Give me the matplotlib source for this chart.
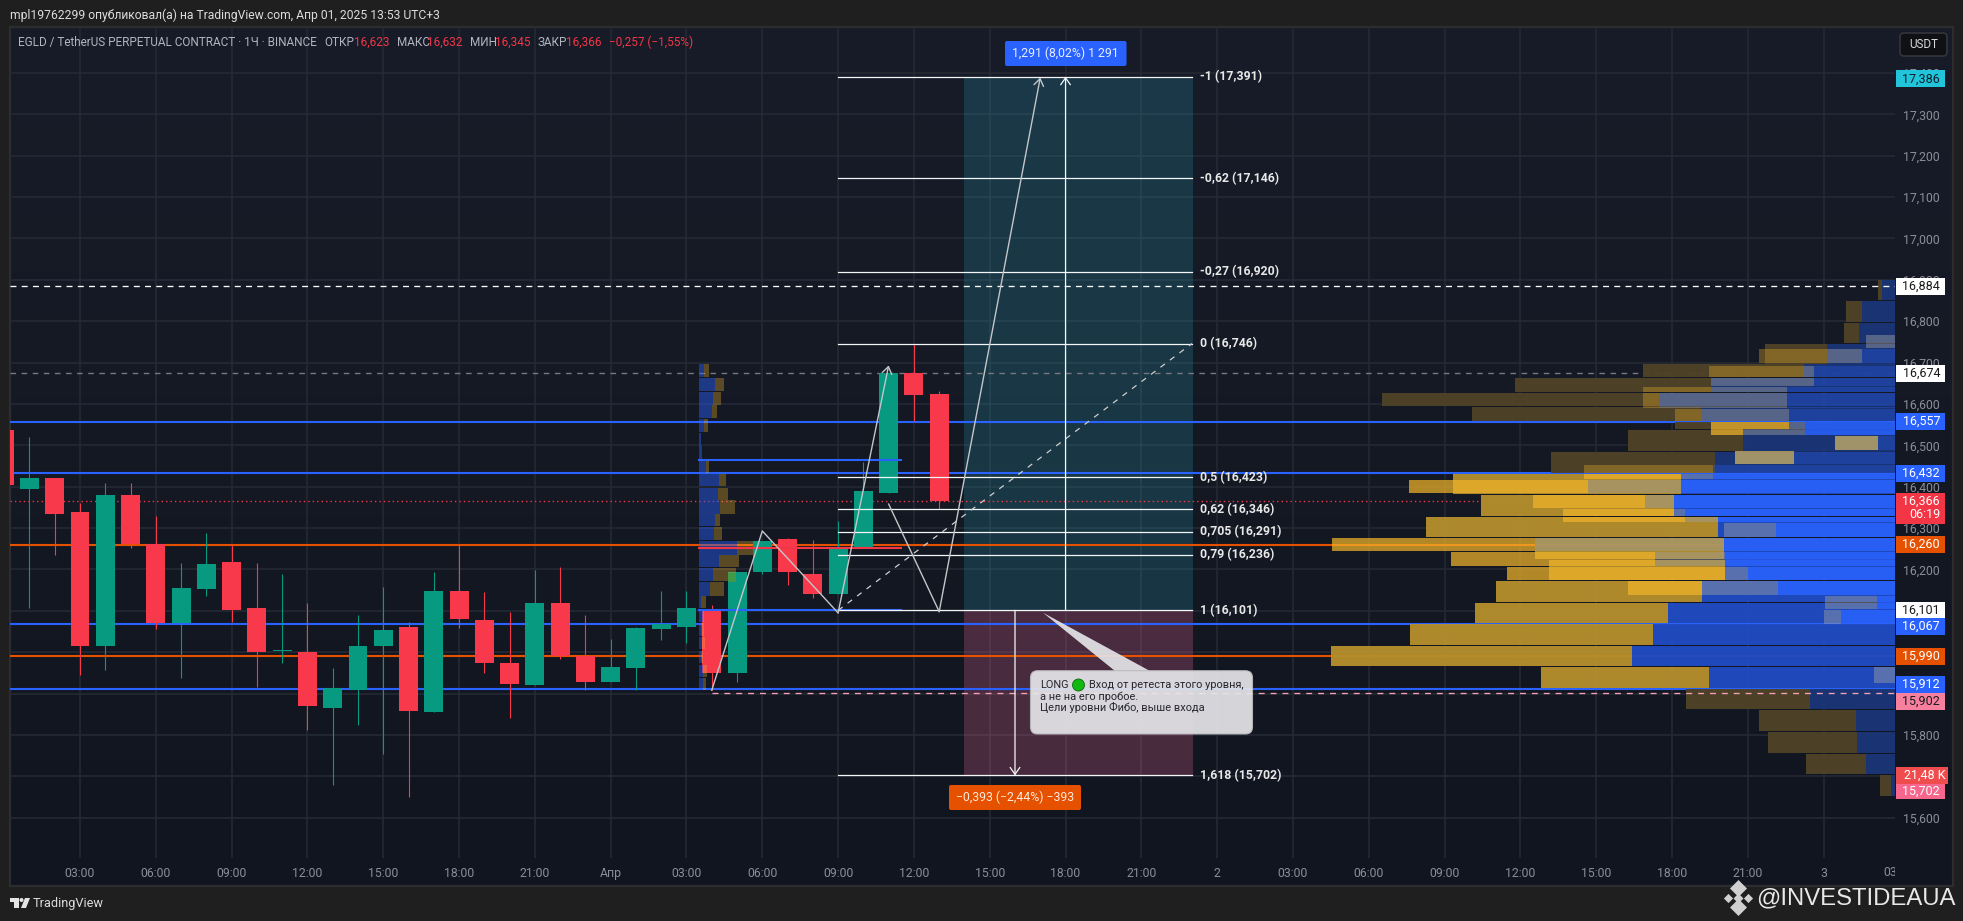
import numpy as np
import matplotlib
matplotlib.use('Agg')
import matplotlib.pyplot as plt
from matplotlib.patches import FancyBboxPatch, Polygon, Rectangle, Circle
from matplotlib.transforms import Bbox, TransformedBbox, IdentityTransform

plt.rcParams['font.family'] = ['Roboto', 'DejaVu Sans']

# ---------------- data ----------------
hours  = list(range(38))
opens  = [16537,16394,16420,16338,16016,16379,16261,16070,16152,16217,16106,16002,16000,15864,15908,16014,16060,15855,16147,16077,15975,15920,16118,15990,15929,15961,16055,16062,16103,15949,16193,16273,16190,16140,16253,16384,16675,16623]
highs  = [16537,16521,16420,16360,16408,16410,16328,16215,16287,16258,16215,16188,16120,15961,16089,16157,16074,16195,16258,16145,16096,16198,16205,16089,16031,16060,16149,16147,16113,16193,16268,16275,16270,16316,16460,16674,16746,16632]
lows   = [16403,16106,16234,15944,15956,16253,16055,15937,16137,16072,15915,15973,15811,15678,15823,15755,15651,15855,16058,15949,15840,15920,15983,15908,15929,15908,16029,16021,15908,15927,16188,16162,16130,16140,16253,16384,16559,16345]
closes = [16403,16420,16333,16014,16379,16261,16070,16154,16212,16103,16000,16004,15869,15913,16014,16053,15857,16147,16079,15975,15922,16118,15990,15929,15963,16058,16067,16106,15949,16193,16268,16195,16140,16250,16389,16674,16622,16366]

fib_labels = ['-1','-0,62','-0,27','0','0,5','0,62','0,705','0,79','1','1,618']
fib_prices = [17391,17146,16920,16746,16423,16346,16291,16236,16101,15702]

blue_levels   = [16557,16432,16067,15912]
orange_levels = [16260,15990]

# session volume profile (left): price band, buy and sell volume
sess_top  = [16697,16663,16629,16597,16564,16530,16498,16466,16430,16398,16367,16333,16302,16268,16234,16203,16169,16135,16103,16070,16036,16004,15970,15937]
sess_bot  = [16665,16631,16597,16566,16532,16498,16467,16432,16401,16369,16335,16304,16270,16236,16205,16171,16137,16106,16072,16038,16007,15973,15939,15908]
sess_buy  = [5.1,15.8,13.8,13.3,5.1,2,3,7.1,20,19,21,15.8,14.8,38.3,20,13.8,10.7,2,4,2,3,2,4,4]
sess_sell = [5.1,9.2,8.2,4.6,4.1,0,0,3.1,7.1,10.2,15.3,5.1,8.2,16,19.9,23.5,14.3,5.1,1,3,3,2,4,3]

# visible range volume profile (right), first layer
va_top  = [16900,16849,16796,16745,16697,16663,16627,16593,16556,16537,16484,16431,16380,16327,16276,16223,16172,16119,16068,16015,15964,15911,15860,15807,15754,15703]
va_bot  = [16851,16798,16747,16694,16665,16629,16595,16559,16540,16486,16433,16382,16329,16279,16225,16175,16121,16071,16017,15967,15914,15863,15810,15756,15706,15652]
va_buy  = [13.1,33,35.9,68.1,90.9,183.9,235.9,194.1,106.1,151.8,180.1,213.9,220.7,176.7,170.8,170,192.8,227,241.8,263,186,85,38.9,38.1,28.8,3.8]
va_sell = [3.8,16.1,14.8,61.7,161.1,196.2,276.9,228.7,113.9,115,163.6,227.9,193.2,292.2,189.6,175.9,205.9,192.8,243.1,300.7,167.9,123.9,96.8,88.8,60,11]

# visible range volume profile (right), second layer
vb_top   = [16767,16733,16692,16663,16641,16627,16588,16556,16540,16523,16486,16453,16431,16416,16380,16346,16327,16312,16276,16242,16206,16172,16136,16102,15963]
vb_bot   = [16735,16699,16665,16643,16629,16590,16559,16540,16525,16489,16455,16433,16419,16385,16349,16329,16315,16279,16245,16208,16175,16138,16105,16068,15926]
vb_blue  = [0,33,80.8,80.8,107.8,107.8,106.1,90.1,90.1,16.9,101,181.8,181.8,213.9,220.7,209.7,176.7,118.8,170.8,170,146.7,117.1,17.8,54.1,0]
vb_mixed = [28.8,35.1,10.1,103.1,76.1,128.1,88,16,61.7,43.1,58.8,0,32.1,93.1,29.2,11,33,52,189,69.7,23.3,75.7,52,16.9,21.2]
vb_gold  = [0,67.6,95.1,0,68.1,16.1,25.8,77.8,32.1,0,0,129,96.9,178.8,112,111.2,122.2,0,202.9,204.2,217.7,74,0,0,0]

tag_prices  = [17386,16884,16674,16557,16432,16260,16101,16067,15990,15912,15902,15702]
tag_shifts  = [0,0,0,0,0,0,0,2,0,-4.5,9,15.5]
tag_fills   = ['#22c4da','#ffffff','#ffffff','#2962ff','#2962ff','#e65100','#ffffff','#2962ff','#e65100','#2962ff','#f7809f','#f7668c']
tag_texts   = ['#10202a','#1a1a1a','#1a1a1a','#ffffff','#ffffff','#ffffff','#1a1a1a','#ffffff','#ffffff','#ffffff','#1a1a1a','#ffffff']

tick_hours  = [3,6,9,12,15,18,21,24,27,30,33,36,39,42,45,48,51,54,57,60,63,66,69,72]
tick_labels = ['03:00','06:00','09:00','12:00','15:00','18:00','21:00','Апр','03:00','06:00','09:00','12:00','15:00','18:00','21:00','2','03:00','06:00','09:00','12:00','15:00','18:00','21:00','3']

# ---------------- layout ----------------
W, H = 1963, 921
PX_PER_H = 25.27
X0 = 4.2
PX_PER_P = 0.4137
PL, PR, PT, PB = 10, 1895, 27, 858
def hx(px): return (px - X0) / PX_PER_H
def pv(py): return 17400 - (py - 73) / PX_PER_P
VOL = 1 / PX_PER_H

GREEN, RED = '#089981', '#f7394b'
BLUE, ORANGE = '#2962ff', '#e65100'
GOLD = '#f0b429'

fig = plt.figure(figsize=(W/100, H/100), dpi=100, facecolor='#1f1f1f')

# pane background gradient
bg = fig.add_axes([PL/W, 1-886/H, (1953-PL)/W, (886-PT)/H], zorder=0)
top_c = np.array([0x18,0x1c,0x28])/255
bot_c = np.array([0x11,0x15,0x1f])/255
t = np.linspace(0,1,200)[:,None,None]
bg.imshow(top_c[None,None,:]*(1-t)+bot_c[None,None,:]*t, aspect='auto', extent=[0,1,0,1])
bg.set_xticks([]); bg.set_yticks([])
for s in bg.spines.values():
    s.set_color('#2b2d31'); s.set_linewidth(1.6)

ax = fig.add_axes([PL/W, 1-PB/H, (PR-PL)/W, (PB-PT)/H], zorder=1)
ax.patch.set_alpha(0)
ax.set_xlim(hx(PL), hx(PR))
ax.set_ylim(pv(PB), pv(PT))
for s in ax.spines.values():
    s.set_visible(False)
ax.set_axisbelow(True)
ax.grid(True, color='#262a35', lw=1.1, zorder=0.5)
ax.set_xticks(tick_hours)
ax.set_xticklabels(tick_labels)
ax.set_yticks(np.arange(15600, 17500, 100))
ax.set_yticklabels([f'{v/1000:.3f}'.replace('.', ',') for v in np.arange(15600, 17500, 100)])
ax.yaxis.tick_right()
ax.tick_params(axis='x', length=0, pad=6.2, labelsize=8.8, labelcolor='#8b8e97')
ax.tick_params(axis='y', length=0, pad=32, labelsize=8.8, labelcolor='#8b8e97')
for lab in ax.get_yticklabels():
    lab.set_ha('right')

# position boxes
FIB_L, FIB_R = 33, 47
BOX_L, BOX_R = 38, 47.05
entry, target, stop = 16101, 17389, 15702
ax.fill_between([BOX_L, BOX_R], entry, target, color='#2bb0c8', alpha=0.2, lw=0, zorder=1)
ax.fill_between([BOX_L, BOX_R], stop, entry, color='#f06a9a', alpha=0.25, lw=0, zorder=1)

# full width levels
for p in blue_levels:
    ax.axhline(p, color=BLUE, lw=1.5, zorder=2)
for p in orange_levels:
    ax.axhline(p, color=ORANGE, lw=1.5, zorder=2)
ax.axhline(16366, color='#f23645', lw=1, ls=(0,(1,2.2)), zorder=2)
ax.axhline(16674, color='#77797f', lw=1, ls=(0,(4,4)), zorder=2)
ax.axhline(16884, color='#ffffff', lw=0.95, ls=(0,(4.5,4)), zorder=6)
ax.plot([28, hx(PR)], [15902, 15902], color='#f7a0b8', lw=0.95, ls=(0,(4.5,4.5)), zorder=6)

# right volume profile, layer A
right = hx(PR)
VA_HI, VA_LO = 16431, 15912
for top, bot, buy, sell in zip(va_top, va_bot, va_buy, va_sell):
    inside = VA_LO <= (top+bot)/2 <= VA_HI
    ax.barh(bot, buy*VOL, (top-bot), left=right-buy*VOL, align='edge',
            color='#204cc2' if inside else '#1b3677', lw=0, zorder=2.5, alpha=0.96)
    ax.barh(bot, sell*VOL, (top-bot), left=right-(buy+sell)*VOL, align='edge',
            color='#b48f2d' if inside else '#4f4228', lw=0, zorder=2.5, alpha=0.96)
# layer B
for top, bot, blue, mixed, gold in zip(vb_top, vb_bot, vb_blue, vb_mixed, vb_gold):
    mid = (top+bot)/2
    hi = (VA_LO <= mid <= VA_HI) or (16525 <= mid <= 16556)
    tan = 16455 <= mid <= 16523
    if blue:
        ax.barh(bot, blue*VOL, top-bot, left=right-blue*VOL, align='edge',
                color=BLUE, alpha=0.85 if hi else 0.3, lw=0, zorder=2.6)
    if mixed:
        ax.barh(bot, mixed*VOL, top-bot, left=right-(blue+mixed)*VOL, align='edge',
                color='#b8a468' if tan else '#a0a0a0', alpha=0.85 if tan else 0.45, lw=0, zorder=2.6)
    if gold:
        ax.barh(bot, gold*VOL, top-bot, left=right-(blue+mixed+gold)*VOL, align='edge',
                color=GOLD, alpha=0.72 if hi else 0.33, lw=0, zorder=2.6)

# candles
for h, o, hi, lo, c in zip(hours, opens, highs, lows, closes):
    col = GREEN if c >= o else RED
    ax.plot([h, h], [lo, hi], color=col, lw=0.8, zorder=3, solid_capstyle='butt')
    ax.bar(h, max(abs(c-o), 3), 0.75, bottom=min(o, c), color=col, lw=0, zorder=3.1)

# session volume profile
S_L = 27.5
for top, bot, buy, sell in zip(sess_top, sess_bot, sess_buy, sess_sell):
    ax.barh(bot, buy*VOL, top-bot, left=S_L, align='edge', color=BLUE, alpha=0.45, lw=0, zorder=4)
    ax.barh(bot, sell*VOL, top-bot, left=S_L+buy*VOL, align='edge', color=GOLD, alpha=0.32, lw=0, zorder=4)
for p, col in [(16465, BLUE), (16103, BLUE), (16251, '#f23645')]:
    ax.plot([S_L, 35.5], [p, p], color=col, lw=1.5, zorder=4.5)

# fib levels
for p, l in zip(fib_prices, fib_labels):
    ax.plot([FIB_L, FIB_R], [p, p], color='#f2f6f6', lw=0.9, zorder=5)
    ax.text(hx(1199.6), p, f'{l} ({p/1000:.3f})'.replace('.', ','), color='#e8e8e8',
            fontsize=8.8, fontweight='bold', va='center', ha='left', zorder=7)
ax.plot([FIB_L, FIB_R], [16101, 16746], color='#cfcfcf', lw=0.9, ls=(0,(4.5,5)), zorder=5)

# measured arrows and path drawings
def arrow(p0, p1, col, lw):
    ax.annotate('', xy=p1, xytext=p0, zorder=6,
                arrowprops=dict(arrowstyle='->,head_length=0.5,head_width=0.35', color=col, lw=lw,
                                shrinkA=0, shrinkB=0))
arrow((42, 16101), (42, 17391), '#f4f8f8', 0.9)
arrow((40, 16101), (40, 15702), '#f4f8f8', 0.9)
PATH = '#c4c6c8'
ax.plot([28, 30, 33], [15908, 16293, 16095], color=PATH, lw=1.0, zorder=6)
arrow((33, 16095), (35, 16693), PATH, 1.0)
ax.plot([35, 37], [16358, 16098], color=PATH, lw=1.0, zorder=6)
arrow((37, 16098), (41, 17389), PATH, 1.0)

# interface overlay in pixel coordinates
ui = fig.add_axes([0, 0, 1, 1], zorder=3)
ui.set_xlim(0, W); ui.set_ylim(H, 0); ui.axis('off'); ui.patch.set_alpha(0)
fig.canvas.draw()
def py(p):
    return H - ax.transData.transform((0, p))[1]

def txt(x, y, s, col, size, **kw):
    kw.setdefault('va', 'center'); kw.setdefault('ha', 'left')
    return ui.text(x, y, s, color=col, fontsize=size, **kw)

def tag(y, h, fill, text, tcol, x0=1896, x1=1945):
    ui.add_patch(Rectangle((x0, y-h/2), x1-x0, h, fc=fill, ec='none', zorder=5))
    return txt(1940, y, text, tcol, 9.0, ha='right', zorder=6)

for p, d, f, c in zip(tag_prices, tag_shifts, tag_fills, tag_texts):
    tag(py(p)+d, 17, f, f'{p/1000:.3f}'.replace('.', ','), c)
# last price tag with countdown
y_last = py(16366)
ui.add_patch(Rectangle((1896, y_last-7.5), 49, 31, fc='#f23645', ec='none', zorder=5))
txt(1940, y_last, '16,366', '#ffffff', 9.0, ha='right', zorder=6)
txt(1940, y_last+14, '06:19', '#ffffff', 9.0, ha='right', zorder=6)
# volume tag
ui.add_patch(Rectangle((1896, 767), 52, 17, fc='#ef4d4d', ec='none', zorder=7))
txt(1945, 775.5, '21,48 K', '#ffffff', 9.0, ha='right', zorder=8)

# USDT button
ui.add_patch(FancyBboxPatch((1900, 33), 47, 23, boxstyle='round,pad=0,rounding_size=4', fc='#101114', ec='#33353b', lw=1.2))
txt(1923.5, 44.5, 'USDT', '#d8d9db', 8.4, ha='center')

# clipped last time label
lab = ui.text(1899, 872, '03:00', color='#8b8e97', fontsize=8.8, ha='center', va='center')
lab.set_clip_box(TransformedBbox(Bbox([[0, 0], [PR, H]]), IdentityTransform()))
lab.set_clip_on(True)

# header and legend
txt(10, 15, 'mpl19762299 опубликовал(а) на TradingView.com, Апр 01, 2025 13:53 UTC+3', '#dcdcdc', 8.7)
LG = '#b2b5be'; LR = '#f23645'
txt(18, 42.5, 'EGLD / TetherUS PERPETUAL CONTRACT · 1Ч · BINANCE', LG, 8.5)
for x, s, c in [(324,'ОТКР',LG),(354,'16,623',LR),(397,'МАКС',LG),(427.5,'16,632',LR),(470,'МИН',LG),
                (495,'16,345',LR),(538,'ЗАКР',LG),(566,'16,366',LR),(609,'−0,257 (−1,55%)',LR)]:
    txt(x, 42.5, s, c, 8.5)

# position labels
ui.add_patch(FancyBboxPatch((1005, 41), 121.5, 25, boxstyle='round,pad=0,rounding_size=2', fc='#2962ff', ec='none'))
txt(1065.7, 53, '1,291 (8,02%) 1 291', '#e8eeff', 8.8, ha='center')
ui.add_patch(FancyBboxPatch((949, 785), 132, 25, boxstyle='round,pad=0,rounding_size=2', fc='#e65100', ec='none'))
txt(1015, 797, '−0,393 (−2,44%) −393', '#ffe8dc', 8.8, ha='center')

# green marker in the session profile
ui.add_patch(Rectangle((728, 573), 8, 9, fc='#3f9a45', ec='none', alpha=0.9, zorder=2))

# callout
ui.add_patch(Polygon([(1043, 612.7), (1115, 671), (1150, 671)], closed=True, fc='#e4e4e8', ec='none', alpha=0.92))
ui.add_patch(FancyBboxPatch((1030.5, 670.7), 222, 63.3, boxstyle='round,pad=0,rounding_size=7', fc='#e6e6ea', ec='#b8b8bc', lw=0.8, alpha=0.92))
CT = '#26282e'
txt(1040, 685, 'LONG', CT, 7.9)
ui.add_patch(Circle((1078.5, 685), 6, fc='#12b812', ec='#0a6a0a', lw=0.6, zorder=3))
txt(1089, 685, 'Вход от ретеста этого уровня,', CT, 7.9)
txt(1040, 696.5, 'а не на его пробое.', CT, 7.9)
txt(1040, 707.5, 'Цели уровни Фибо, выше входа', CT, 7.9)

# TradingView mark
L = '#e4e4e4'
ui.add_patch(Polygon([(10,898),(19,898),(19,908),(14,908),(14,902),(10,902)], closed=True, fc=L, ec='none'))
ui.add_patch(Circle((21.5, 900), 2, fc=L, ec='none'))
ui.add_patch(Polygon([(25,898),(30,898),(26,908),(21,908)], closed=True, fc=L, ec='none'))
txt(33, 903, 'TradingView', '#dcdcdc', 9.2)

# watermark
WM = '#d0d0d0'
for x, y, s in [(1738, 888, 75), (1728, 897.5, 22), (1748, 897.5, 22), (1738, 897.5, 26), (1738, 907, 75)]:
    ui.scatter([x], [y], marker='D', s=s, color=WM, lw=0)
txt(1756, 898, '@INVESTIDEAUA', '#e8e8e8', 17.2, family='Liberation Sans')

fig.savefig('out.png', dpi=100, facecolor=fig.get_facecolor())
